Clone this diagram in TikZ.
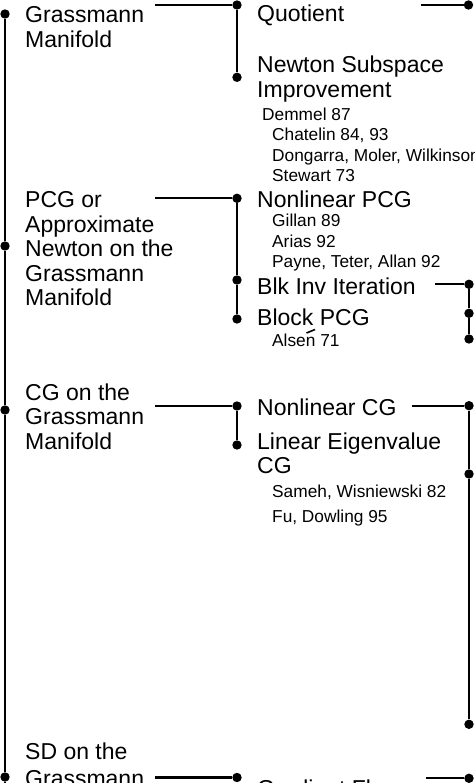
\documentclass[tikz,border=0pt]{standalone}
\usepackage{fontspec}
\setmainfont{Liberation Sans}
\begin{document}
\begin{tikzpicture}[x=1pt,y=-1pt,
  big/.style={anchor=base west,inner sep=0pt,align=left,font=\fontsize{23}{24.5}\selectfont},
  small/.style={anchor=base west,inner sep=0pt,align=left,font=\fontsize{17.3}{20.5}\selectfont},
  dot/.style={circle,fill=black,inner sep=0pt,minimum size=9.4pt},
  link/.style={line width=2.2pt}]
\useasboundingbox (0,0) rectangle (474,783);
\clip (0,0) rectangle (474,783);

% left column texts (multi-line nodes are placed by their last baseline)
\node[big] (t0) at (25,47.4) {Grassmann\\Manifold};
\node[big] (t1) at (25,305.5) {PCG or\\Approximate\\Newton on the\\Grassmann\\Manifold};
\node[big] (t2) at (25,449) {CG on the\\Grassmann\\Manifold};
\node[big,font=\fontsize{23}{27}\selectfont] (t3) at (25,786) {SD on the\\Grassmann};

% middle column texts
\node[big] (q) at (257,22) {Quotient};
\node[big] (nsi) at (257,97.5) {Newton Subspace\\Improvement};
\node[small] (dem) at (262,120.7) {Demmel 87};
\node[small] (cha) at (272,182) {Chatelin 84, 93\\Dongarra, Moler, Wilkinson\\Stewart 73};
\node[big] (npcg) at (257,207.3) {Nonlinear PCG};
\node[small] (gil) at (272,267.5) {Gillan 89\\Arias 92\\Payne, Teter, Allan 92};
\node[big] (blk) at (257,294.3) {Blk Inv Iteration};
\node[big] (bpcg) at (257,325.7) {Block PCG};
\node[small] (als) at (272,346.7) {Alsen 71};
\node[big] (ncg) at (257,415) {Nonlinear CG};
\node[big] (lecg) at (257,473.5) {Linear Eigenvalue\\CG};
\node[small] (sam) at (272,497) {Sameh, Wisniewski 82};
\node[small] (fu) at (272,522) {Fu, Dowling 95};
\node[big] (gf) at (257,796) {Gradient Flows};

% stray accent stroke
\coordinate (acA) at (306.5,333);
\coordinate (acB) at (315,329.5);
\draw[line width=1.6pt] (acA) -- (acB);

% left column dots
\node[dot] (l1) at (5,14) {};
\node[dot] (l2) at (5,246) {};
\node[dot] (l3) at (5,410) {};
\node[dot] (l4) at (5,777) {};
\coordinate (lend) at (5,800);
\draw[link] (l1) -- (l2) -- (l3) -- (l4) -- (lend);

% middle column dots
\node[dot] (m1) at (237,5) {};
\node[dot] (m1b) at (237,77.3) {};
\node[dot] (m2) at (237,198.3) {};
\node[dot] (m2b) at (237,280) {};
\node[dot] (m2c) at (237,319) {};
\node[dot] (m3) at (237,406) {};
\node[dot] (m3b) at (237,445) {};
\node[dot] (m4) at (237,777.5) {};

\coordinate (h1) at (155,5);
\coordinate (h2) at (155,198.3);
\coordinate (h3) at (155,406);
\coordinate (h4) at (155,777.5);
\draw[link] (h1) -- (m1);
\draw[link] (m1) -- (m1b);
\draw[link] (h2) -- (m2);
\draw[link] (m2) -- (m2b) -- (m2c);
\draw[link] (h3) -- (m3);
\draw[link] (m3) -- (m3b);
\draw[link] (h4) -- (m4);

% right column dots
\node[dot] (r1) at (468.5,5) {};
\node[dot] (r2) at (469,284.3) {};
\node[dot] (r2b) at (469,313.3) {};
\node[dot] (r2c) at (469,339) {};
\node[dot] (r3) at (469,405.7) {};
\node[dot] (r3b) at (469,474) {};
\node[dot] (r3c) at (469,724.3) {};
\node[dot] (r4) at (469,778.3) {};

\coordinate (g1) at (420.7,5);
\coordinate (g2) at (435,284.3);
\coordinate (g3) at (411.7,405.7);
\coordinate (g4) at (426,778.3);
\draw[link] (g1) -- (r1);
\draw[link] (g2) -- (r2);
\draw[link] (r2) -- (r2b) -- (r2c);
\draw[link] (g3) -- (r3);
\draw[link] (r3) -- (r3b) -- (r3c);
\draw[link] (g4) -- (r4);
\end{tikzpicture}
\end{document}
